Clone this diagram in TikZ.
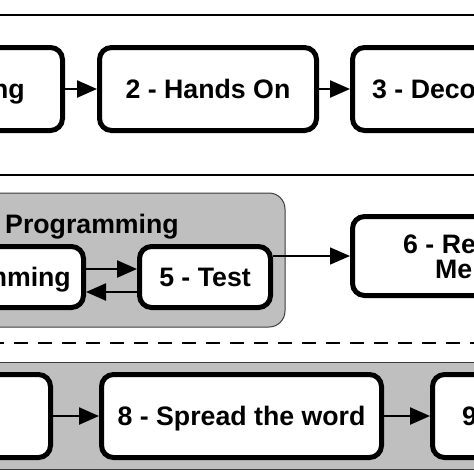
\documentclass[tikz,border=0pt]{standalone}
\usepackage{fontspec}
\setmainfont{Liberation Sans}
\usetikzlibrary{arrows.meta, positioning}
\definecolor{groupgray}{RGB}{191,191,191}
\definecolor{groupedge}{RGB}{60,60,60}

\begin{document}
\begin{tikzpicture}[
        x=1pt, y=1pt,
        node distance=32pt,
        block/.style={rectangle, draw=black, fill=white, minimum width=217pt, minimum height=83pt, rounded corners=12pt, line width=5pt, font=\bfseries\fontsize{26.7}{27}\selectfont, text height=19pt, text depth=0pt, inner sep=0pt},
        smallblock/.style={block, minimum width=131pt, minimum height=61pt},
        frag/.style={inner sep=0pt, font=\bfseries\fontsize{26.7}{27}\selectfont, text height=19pt, text depth=0pt},
        arrow/.style={-{Triangle[length=20pt, width=17pt]}, line width=2.4pt, black},
        thinarrow/.style={arrow, line width=1.5pt},
        divider/.style={line width=2pt, black},
        groupbox/.style={draw=groupedge, fill=groupgray, line width=1pt, rounded corners=16pt},
        band/.style={draw=groupedge, fill=groupgray, line width=1pt}
    ]

    \useasboundingbox (0,0) rectangle (474,-474);

    % Separators and shaded areas
    \draw[divider] (-10,-15) -- (484,-15);
    \draw[divider] (-10,-175) -- (484,-175);
    \draw[divider, line width=2.6pt, dash pattern=on 14pt off 10pt] (-10,-343) -- (484,-343);
    \draw[groupbox] (-40,-193) rectangle (285,-327);
    \draw[band] (-10,-362) rectangle (484,-469);

    % First row
    \node[block] (hands) at (208,-89) {2 - Hands On};
    \node[block, left=32pt of hands] (intro) {};
    \node[block, right=31pt of hands] (deco) {};
    \node[frag, anchor=east] (introtxt) at ([xshift=-40pt]intro.east) {ng};
    \node[frag, anchor=west] (decotxt) at ([xshift=22pt]deco.west) {3 - Deco};

    % Second row
    \node[frag, anchor=west] (progtitle) at (5,-224) {Programming};
    \node[smallblock] (test) at (205,-277) {5 - Test};
    \node[smallblock, left=51pt of test] (prog) {};
    \node[block, minimum height=79pt, anchor=west] (reflect) at (350,-256) {};
    \node[frag, anchor=east] (progtxt) at ([xshift=-15pt]prog.east) {mming};
    \node[frag, anchor=west] (reflecttxt) at ([xshift=53pt, yshift=12.5pt]reflect.west) {6 - Re};
    \node[frag, anchor=west] (reflecttxtb) at ([xshift=85pt, yshift=-12.5pt]reflect.west) {Me};

    % Third row
    \node[block, minimum width=280pt] (spread) at (241.5,-416) {8 - Spread the word};
    \node[block, left=46pt of spread] (share) {};
    \node[block, right=46pt of spread] (ninth) {};
    \node[frag, anchor=west] (ninthtxt) at ([xshift=32pt]ninth.west) {9};

    % Arrows
    \draw[arrow] (intro) -- (hands);
    \draw[arrow] (hands) -- (deco);
    \draw[arrow] ([yshift=8pt]prog.east) -- ([yshift=8pt]test.west);
    \draw[arrow] ([yshift=-15pt]test.west) -- ([yshift=-15pt]prog.east);
    \draw[thinarrow] (test.east |- reflect.west) -- (reflect.west);
    \draw[arrow] (share) -- (spread);
    \draw[arrow] (spread) -- (ninth);

\end{tikzpicture}
\end{document}
